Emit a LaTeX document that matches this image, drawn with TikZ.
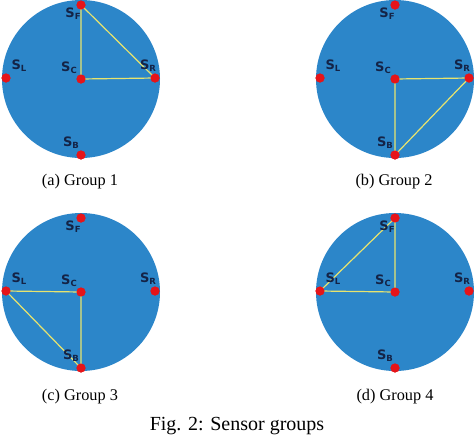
\documentclass[tikz,border=0pt]{standalone}
\usepackage{fontspec}
\setmainfont{Liberation Serif}
\newfontfamily\lblfont{DejaVu Sans}
\definecolor{discblue}{RGB}{44,134,201}
\definecolor{dotred}{RGB}{230,20,25}
\definecolor{linkyellow}{RGB}{232,228,110}
\definecolor{lblnavy}{RGB}{20,35,70}
\tikzset{
  disc/.style={circle, fill=discblue, inner sep=0pt, minimum size=158pt},
  sensor/.style={circle, fill=dotred, inner sep=0pt, minimum size=9pt},
  slabel/.style={text=lblnavy, inner sep=0pt, font=\lblfont\bfseries\fontsize{13}{14}\selectfont},
  link/.style={linkyellow, line width=1.2pt},
  subcap/.style={font=\fontsize{16.3}{18}\selectfont, inner sep=0pt},
  figcap/.style={font=\fontsize{20}{22}\selectfont, inner sep=0pt}
}
\newcommand{\sns}[1]{S\raisebox{-0.3ex}{\fontsize{8.5}{9}\selectfont #1}}
\newcommand{\panelsetup}[3]{%
  \node[disc] (#1disc) at (#2,#3) {};
  \coordinate (#1c) at (#2,#3);
  \node[sensor] (#1C) at ($(#1c)+(0,0)$) {};
  \node[sensor] (#1F) at ($(#1c)+(0,-74)$) {};
  \node[sensor] (#1B) at ($(#1c)+(0,76)$) {};
  \node[sensor] (#1L) at ($(#1c)+(-75,-1)$) {};
  \node[sensor] (#1R) at ($(#1c)+(74,-1)$) {};
}
\newcommand{\panellabels}[1]{%
  \node[slabel] (#1lC) at ($(#1c)+(-12,-11)$) {\sns{C}};
  \node[slabel] (#1lF) at ($(#1c)+(-8,-65)$) {\sns{F}};
  \node[slabel] (#1lB) at ($(#1c)+(-10,64)$) {\sns{B}};
  \node[slabel] (#1lL) at ($(#1c)+(-62,-13)$) {\sns{L}};
  \node[slabel] (#1lR) at ($(#1c)+(67,-13)$) {\sns{R}};
}
\usetikzlibrary{calc}
\begin{document}
\begin{tikzpicture}[x=1pt,y=-1pt]
\useasboundingbox (0,0) rectangle (474,437);
\panelsetup{a}{81}{79}
\panelsetup{b}{395}{79}
\panelsetup{c}{81}{292}
\panelsetup{d}{395}{292}
% links
\draw[link] (ac.center) -- (aF.center) -- (aR.center) -- (ac.center);
\draw[link] (bc.center) -- (bR.center) -- (bB.center) -- (bc.center);
\draw[link] (cc.center) -- (cL.center) -- (cB.center) -- (cc.center);
\draw[link] (dc.center) -- (dL.center) -- (dF.center) -- (dc.center);
% redraw dots on top
\foreach \p in {a,b,c,d}{
  \foreach \s in {C,F,B,L,R}{
    \fill[dotred] (\p\s) circle (4.5pt);
  }
}
\panellabels{a}
\panellabels{b}
\panellabels{c}
\panellabels{d}
\node[subcap] (capa) at (80,182) {(a) Group 1};
\node[subcap] (capb) at (394,182) {(b) Group 2};
\node[subcap] (capc) at (80,397) {(c) Group 3};
\node[subcap] (capd) at (395,397) {(d) Group 4};
\node[figcap] (fig) at (237,426) {Fig. 2: Sensor groups};
\end{tikzpicture}
\end{document}
